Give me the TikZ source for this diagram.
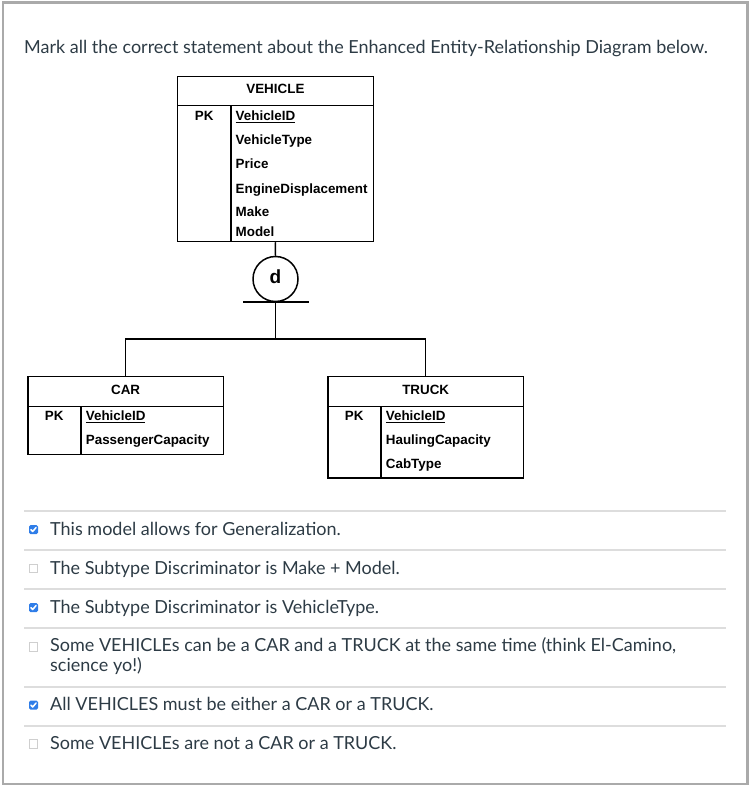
\documentclass[tikz,border=0pt]{standalone}
\usepackage{fontspec}
\setmainfont{Lato}
\newfontfamily\erfont{Liberation Sans}
\definecolor{txtc}{HTML}{2D3B45}
\definecolor{framec}{HTML}{AAAAAA}
\definecolor{sepc}{HTML}{DDDDDD}
\definecolor{chkblue}{HTML}{2F7DE8}
\definecolor{unchk}{HTML}{CFCFCF}
\tikzset{
  qtext/.style={anchor=base west, inner sep=0, text=txtc, font=\fontsize{18}{20}\selectfont},
  ertext/.style={inner sep=0, font=\erfont\bfseries\fontsize{13.4}{15}\selectfont},
  erattr/.style={ertext, anchor=base west},
  erhead/.style={ertext, anchor=base},
  entbox/.style={draw, line width=1.5pt, inner sep=0, rectangle},
  erline/.style={line width=1.5pt},
  sepline/.style={draw=sepc, line width=2pt},
  cbon/.style={fill=chkblue, rounded corners=1.5pt, draw=none, minimum size=9pt, inner sep=0},
  cboff/.style={draw=unchk, fill=white, line width=0.8pt, minimum size=8.5pt, inner sep=0},
}
\newcommand{\tick}[1]{\draw[white, line width=1.5pt, line cap=round, line join=round] ([shift={(-2.6,0.2)}]#1.center) -- ([shift={(-0.8,2)}]#1.center) -- ([shift={(2.6,-2)}]#1.center);}
\begin{document}
\begin{tikzpicture}[x=1pt,y=-1pt]
\useasboundingbox (0,0) rectangle (752,786);
\draw[draw=framec, line width=2.5pt] (3,2.5) rectangle (747.5,784);
\node[qtext] (title) at (24,53.3) {Mark all the correct statement about the Enhanced Entity-Relationship Diagram below.};

% VEHICLE
\node[entbox, minimum width=195.8pt, minimum height=165pt] (vehicle) at (275.4,159) {};
\draw[erline] (177.5,105.7) -- (373.3,105.7);
\draw[erline] (231,105.7) -- (231,241.5);
\node[erhead] (vhead) at (275.4,94) {VEHICLE};
\node[erhead] (vpk) at (204.3,121) {PK};
\node[erattr] (v1) at (235.5,121) {\underline{VehicleID}};
\node[erattr] (v2) at (235.5,145) {VehicleType};
\node[erattr] (v3) at (235.5,169) {Price};
\node[erattr] (v4) at (235.5,193.3) {EngineDisplacement};
\node[erattr] (v5) at (235.5,217) {Make};
\node[erattr] (v6) at (235.5,236.7) {Model};

% disjoint circle
\node[draw, circle, line width=1.5pt, minimum size=45pt, inner sep=0] (disc) at (275.5,279) {};
\node[inner sep=0, anchor=base, font=\erfont\bfseries\fontsize{19}{21}\selectfont] (dlabel) at (275.5,283.5) {d};
\coordinate (barL) at (243,302);
\coordinate (barR) at (309,302);
\coordinate (barM) at (275.5,302);
\coordinate (jn) at (275.5,339);
\draw[erline] (vehicle.south) -- (disc.north);
\draw[erline] (barL) -- (barR);
\draw[erline] (barM) -- (jn);

% CAR
\node[entbox, minimum width=195.5pt, minimum height=77.6pt] (car) at (125.6,415.5) {};
\draw[erline] (27.8,406.7) -- (223.3,406.7);
\draw[erline] (81,406.7) -- (81,454.3);
\node[erhead] (chead) at (125.6,394) {CAR};
\node[erhead] (cpk) at (54.3,420.7) {PK};
\node[erattr] (c1) at (85.7,420.7) {\underline{VehicleID}};
\node[erattr] (c2) at (85.7,444.4) {PassengerCapacity};

% TRUCK
\node[entbox, minimum width=195.8pt, minimum height=101.3pt] (truck) at (425.7,427.35) {};
\draw[erline] (327.8,406.7) -- (523.6,406.7);
\draw[erline] (381,406.7) -- (381,478);
\node[erhead] (thead) at (425.7,394) {TRUCK};
\node[erhead] (tpk) at (354.3,420.7) {PK};
\node[erattr] (t1) at (385.7,420.7) {\underline{VehicleID}};
\node[erattr] (t2) at (385.7,444.5) {HaulingCapacity};
\node[erattr] (t3) at (385.7,468.3) {CabType};

\draw[erline] (car.north) |- (jn) -| (truck.north);

% options
\foreach \y in {511,550,589,627.7,686.7,725.7} \draw[sepline] (24,\y) -- (726,\y);

\node[cbon] (cb1) at (33.5,529.5) {};
\tick{cb1}
\node[qtext] (o1) at (50,535) {This model allows for Generalization.};
\node[cboff] (cb2) at (33.5,568.5) {};
\node[qtext] (o2) at (50,574) {The Subtype Discriminator is Make + Model.};
\node[cbon] (cb3) at (33.5,607.5) {};
\tick{cb3}
\node[qtext] (o3) at (50,613) {The Subtype Discriminator is VehicleType.};
\node[cboff] (cb4) at (33.5,647) {};
\node[qtext] (o4a) at (50,651.7) {Some VEHICLEs can be a CAR and a TRUCK at the same time (think El-Camino,};
\node[qtext] (o4b) at (50,671.2) {science yo!)};
\node[cbon] (cb5) at (33.5,705) {};
\tick{cb5}
\node[qtext] (o5) at (50,710.5) {All VEHICLES must be either a CAR or a TRUCK.};
\node[cboff] (cb6) at (33.5,744) {};
\node[qtext] (o6) at (50,749.5) {Some VEHICLEs are not a CAR or a TRUCK.};
\end{tikzpicture}
\end{document}
